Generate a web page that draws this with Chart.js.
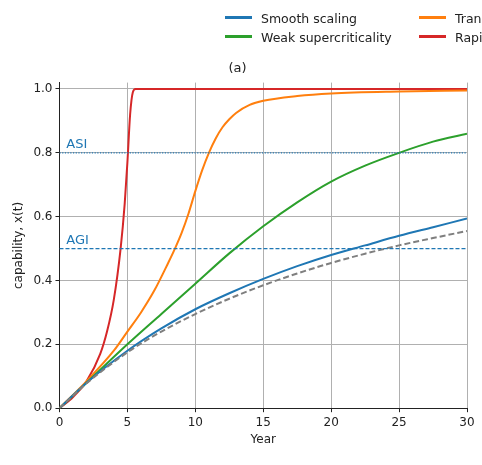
<!DOCTYPE html>
<html><head><meta charset="utf-8">
<script src="https://cdn.jsdelivr.net/npm/chart.js@4"></script>
<style>
body{margin:0;width:482px;height:465px;overflow:hidden;font-family:"DejaVu Sans";background:#fff;position:relative}
#wrap{position:absolute;left:0;top:0;width:482px;height:465px}
.lg{position:absolute;font-size:12.5px;color:#222;white-space:nowrap}
.lg span{display:inline-block;width:27px;height:3px;vertical-align:middle;margin-right:9px;position:relative;top:-2px}
</style></head><body>
<div id="wrap"><canvas id="c" width="482" height="465"></canvas></div>
<div class="lg" style="left:225px;top:11px"><span style="background:#1f77b4"></span>Smooth scaling</div>
<div class="lg" style="left:225px;top:30px"><span style="background:#2ca02c"></span>Weak supercriticality</div>
<div class="lg" style="left:419px;top:11px"><span style="background:#ff7f0e"></span>Transition</div>
<div class="lg" style="left:419px;top:30px"><span style="background:#d62728"></span>Rapid takeoff</div>
<script>
const smoothX=[0,2,5,7.5,10,12.5,15,17.5,20,22.5,25,27.5,30];
const smoothY=[0,0.08,0.18,0.25,0.31,0.36,0.405,0.445,0.48,0.51,0.54,0.567,0.594];
const baseX=[0,2,5,7.5,10,12.5,15,17.5,20,22.5,25,27.5,30];
const baseY=[0,0.078,0.175,0.24,0.295,0.343,0.385,0.422,0.455,0.484,0.51,0.533,0.555];
const weakX=[0,2.5,5,7.5,10,12.5,15,17.5,20,22.5,25,27.5,30];
const weakY=[0,0.1,0.2,0.295,0.39,0.485,0.57,0.645,0.71,0.76,0.8,0.835,0.86];
const transX=[0,2,4,5,6,7,8,8.5,9,9.5,10,10.5,11,11.5,12,12.5,13,14,15,17.5,20,25,30];
const transY=[0,0.085,0.18,0.24,0.3,0.37,0.455,0.5,0.55,0.61,0.68,0.745,0.8,0.845,0.88,0.905,0.925,0.95,0.963,0.978,0.986,0.992,0.995];
const rapidX=[0,1,2,3,3.5,4,4.5,4.8,5,5.2,5.4,5.6,6,10,20,30];
const rapidY=[0,0.035,0.085,0.17,0.24,0.34,0.5,0.64,0.77,0.92,0.99,1.0,1.0,1.0,1.0,1.0];
const thrX=[0,30]; const agiY=0.5; const asiY=0.8;
const pts=(xs,ys)=>xs.map((x,i)=>({x,y:ys[i]}));
const ln=(d,c,extra)=>Object.assign({data:d,borderColor:c,borderWidth:2,pointRadius:0,fill:false,cubicInterpolationMode:'monotone'},extra||{});
const labels={id:'lbl',afterDatasetsDraw(ch){const{ctx,scales:{x,y}}=ch;ctx.save();ctx.fillStyle='#1f77b4';ctx.font='13px "DejaVu Sans"';ctx.textBaseline='alphabetic';ctx.fillText('AGI',x.getPixelForValue(0.5),y.getPixelForValue(agiY)-5);ctx.fillText('ASI',x.getPixelForValue(0.5),y.getPixelForValue(asiY)-5);ctx.restore();}};
new Chart(document.getElementById('c'),{type:'line',
data:{datasets:[
ln(pts(thrX,[agiY,agiY]),'#1f77b4',{borderWidth:1.2,borderDash:[4,2],cubicInterpolationMode:'default',tension:0}),
ln(pts(thrX,[asiY,asiY]),'#1f77b4',{borderWidth:1.2,borderDash:[1.2,1.5],cubicInterpolationMode:'default',tension:0}),
ln(pts(baseX,baseY),'#7f7f7f',{borderDash:[6,3]}),
ln(pts(smoothX,smoothY),'#1f77b4'),
ln(pts(weakX,weakY),'#2ca02c'),
ln(pts(transX,transY),'#ff7f0e'),
ln(pts(rapidX,rapidY),'#d62728')]},
options:{responsive:false,animation:false,
layout:{padding:{left:8,right:15,top:61,bottom:14}},
plugins:{legend:{display:false},tooltip:{enabled:false},
title:{display:true,text:'(a)',font:{family:'DejaVu Sans',size:13,weight:'normal'},color:'#222',padding:{top:0,bottom:6}}},
scales:{
x:{type:'linear',min:0,max:30,ticks:{stepSize:5,color:'#222',font:{family:'DejaVu Sans',size:12},maxRotation:0},
grid:{color:'#b0b0b0',tickLength:4,tickColor:'#222'},border:{color:'#222'},
title:{display:true,text:'Year',color:'#222',font:{family:'DejaVu Sans',size:12},padding:{top:0}}},
y:{min:0,max:1.02,afterBuildTicks(a){a.ticks=[0,0.2,0.4,0.6,0.8,1.0].map(v=>({value:v}));},
ticks:{color:'#222',font:{family:'DejaVu Sans',size:12},callback:v=>v.toFixed(1)},
grid:{color:'#b0b0b0',tickLength:4,tickColor:'#222'},border:{color:'#222'},
title:{display:true,text:'capability, x(t)',color:'#222',font:{family:'DejaVu Sans',size:12}}}}},
plugins:[labels]});
</script></body></html>
